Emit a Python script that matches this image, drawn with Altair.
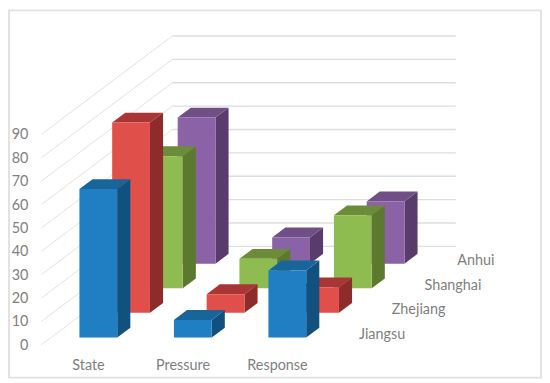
import altair as alt
import pandas as pd

categories = ["State", "Pressure", "Response"]
series = ["Jiangsu", "Zhejiang", "Shanghai", "Anhui"]
jiangsu = [63.5, 7.5, 28.7]
zhejiang = [81.4, 8.0, 10.9]
shanghai = [56.5, 12.6, 31.2]
anhui = [62.5, 11.2, 26.6]
value_ticks = [0, 10, 20, 30, 40, 50, 60, 70, 80, 90]
front_colors = ["#1f7fc2", "#e04f4a", "#8fbc50", "#8b62a6"]
side_colors = ["#10517f", "#8e2b2b", "#5c7a2e", "#5a3c6c"]
top_colors = ["#18659a", "#a93536", "#6c8c3a", "#6f4f85"]
grid_color = "#dedede"
text_color = "#7f7f7f"
font = "Lato"

# Oblique projection: one depth slot shifts a point right and up.
CAT_PX = 95.2
VAL_PX = 2.355
DX = 33.0 / CAT_PX        # category units per depth slot
DY = 24.8 / VAL_PX        # value units per depth slot
BAR_W = 0.4
BAR_D = 0.4
GAP = 0.3

W, H = 536, 370
X0, Y0 = 40 - 7.5, 345 - 8  # plot position of category 0 / value 0
x_scale = alt.Scale(domain=[-X0 / CAT_PX, (W - X0) / CAT_PX], range=[0, W], nice=False, zero=False)
y_scale = alt.Scale(domain=[(Y0 - H) / VAL_PX, Y0 / VAL_PX], range=[H, 0], nice=False, zero=False)
X = lambda f: alt.X(f, type="quantitative", scale=x_scale, axis=None)
Y = lambda f: alt.Y(f, type="quantitative", scale=y_scale, axis=None)


def px(c, d):
    return c + d * DX


def py(v, d):
    return v + d * DY


# Gridlines
slant = []
back = []
for v in value_ticks:
    slant += [{"lv": v, "o": 0, "x": px(0, 0), "y": py(v, 0)},
              {"lv": v, "o": 1, "x": px(0, 4), "y": py(v, 4)}]
    back += [{"lv": v, "o": 0, "x": px(0, 4), "y": py(v, 4)},
             {"lv": v, "o": 1, "x": px(3, 4), "y": py(v, 4)}]

layers = [
    alt.Chart(pd.DataFrame(slant)).mark_line(color="#e2e2e2", strokeWidth=1).encode(
        x=X("x"), y=Y("y"), detail="lv:N", order="o:Q"),
    alt.Chart(pd.DataFrame(back)).mark_line(color=grid_color, strokeWidth=1.4).encode(
        x=X("x"), y=Y("y"), detail="lv:N", order="o:Q"),
]

# Bars, back series first
all_values = [jiangsu, zhejiang, shanghai, anhui]
for s in reversed(range(len(series))):
    d0, d1 = s + GAP, s + GAP + BAR_D
    front, side, top = [], [], []
    for c, v in enumerate(all_values[s]):
        xl, xr = c + GAP, c + GAP + BAR_W
        front.append({"x": px(xl, d0), "x2": px(xr, d0), "y": py(0, d0), "y2": py(v, d0)})
        side += [{"c": c, "x": px(xr, d0), "y": py(0, d0), "y2": py(v, d0)},
                 {"c": c, "x": px(xr, d1), "y": py(0, d1), "y2": py(v, d1)}]
        top += [{"c": c, "y": py(v, d0), "x": px(xl, d0), "x2": px(xr, d0)},
                {"c": c, "y": py(v, d1), "x": px(xl, d1), "x2": px(xr, d1)}]
    layers.append(alt.Chart(pd.DataFrame(side)).mark_area(color=side_colors[s], orient="vertical").encode(
        x=X("x"), y=Y("y"), y2="y2:Q", detail="c:N"))
    layers.append(alt.Chart(pd.DataFrame(top)).mark_area(color=top_colors[s], orient="horizontal").encode(
        y=Y("y"), x=X("x"), x2="x2:Q", detail="c:N"))
    layers.append(alt.Chart(pd.DataFrame(front)).mark_rect(color=front_colors[s]).encode(
        x=X("x"), x2="x2:Q", y=Y("y"), y2="y2:Q"))

# Labels
text = dict(font=font, fontSize=14.5, color=text_color)
val_df = pd.DataFrame({"t": [str(v) for v in value_ticks], "x": [0.0] * 10, "y": value_ticks})
cat_df = pd.DataFrame({"t": categories, "x": [c + 0.5 for c in range(3)], "y": [0.0] * 3})
ser_df = pd.DataFrame({"t": series,
                       "x": [px(3, s + 0.5) for s in range(4)],
                       "y": [py(0, s + 0.5) for s in range(4)]})
layers += [
    alt.Chart(val_df).mark_text(align="right", baseline="middle", dx=-13, dy=1, **text).encode(
        x=X("x"), y=Y("y"), text="t:N"),
    alt.Chart(cat_df).mark_text(align="center", baseline="middle", dy=21, **text).encode(
        x=X("x"), y=Y("y"), text="t:N"),
    alt.Chart(ser_df).mark_text(align="left", baseline="middle", dx=18, dy=2.5, **text).encode(
        x=X("x"), y=Y("y"), text="t:N"),
]

chart = alt.layer(*layers).properties(
    width=W, height=H, padding=1, background="white",
    autosize=alt.AutoSizeParams(type="none"),
).configure_view(stroke="#e2e2e2", strokeWidth=2)

chart.save("out.html", embed_options={"renderer": "svg", "actions": False})
